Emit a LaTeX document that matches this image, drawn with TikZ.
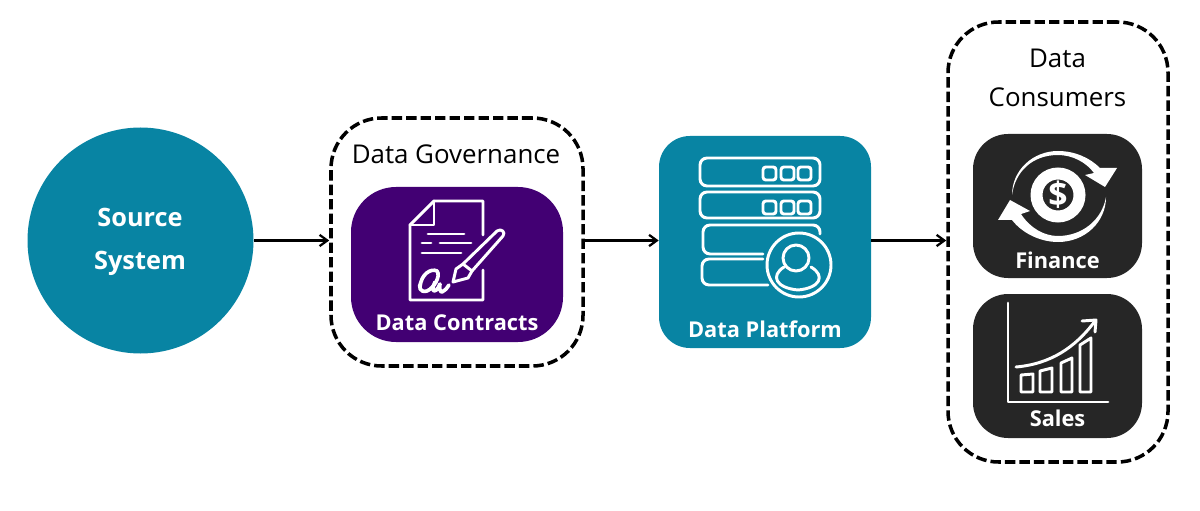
\documentclass[tikz,border=0pt]{standalone}
\usepackage{fontspec}
\setmainfont{Open Sans}
\usetikzlibrary{arrows.meta, shapes.geometric}
\definecolor{petrol}{RGB}{8, 132, 163}
\definecolor{morado}{RGB}{66, 0, 115}
\definecolor{carbon}{RGB}{38, 38, 38}
\tikzset{
    tile/.style={rectangle, draw=none, text=white, inner sep=0pt, rounded corners=#1},
    group/.style={rectangle, draw=black, line width=2.5pt, dash pattern=on 7.4pt off 2.9pt, inner sep=0pt, rounded corners=36pt},
    conn/.style={-{Straight Barb[length=5.5pt,width=8pt,line width=1.6pt]}, black, line width=1.6pt},
    icon/.style={draw=white, line width=2.1pt, line cap=round, line join=round},
    boldtxt/.style={text=white, font=\fontsize{15.5}{22}\selectfont\bfseries, align=center, inner sep=0pt},
    plaintxt/.style={text=black, font=\fontsize{18.4}{27.5}\selectfont, align=center, inner sep=0pt},
}
\begin{document}
\begin{tikzpicture}[x=0.025cm, y=-0.025cm]
    \useasboundingbox (0,0) rectangle (1200,511);

    \node[circle, fill=petrol, minimum size=226*0.025cm, inner sep=0pt] (source) at (140.5,240.5) {};
    \node[group, minimum width=252*0.025cm, minimum height=248*0.025cm] (gov) at (457,242) {};
    \node[tile=32pt, fill=morado, minimum width=212*0.025cm, minimum height=155*0.025cm] (contracts) at (457,264.5) {};
    \node[tile=22pt, fill=petrol, minimum width=212*0.025cm, minimum height=212*0.025cm] (platform) at (765,242) {};
    \node[group, minimum width=220*0.025cm, minimum height=440*0.025cm] (consumers) at (1058,242) {};
    \node[tile=25pt, fill=carbon, minimum width=169*0.025cm, minimum height=144*0.025cm] (finance) at (1057.5,206) {};
    \node[tile=25pt, fill=carbon, minimum width=169*0.025cm, minimum height=144*0.025cm] (sales) at (1057.5,366) {};

    \node[boldtxt, font=\fontsize{18}{30.5}\selectfont\bfseries] (sourcetxt) at (140,241.5) {Source\\System};
    \node[plaintxt] (govtxt) at (456,154) {Data Governance};
    \node[boldtxt] (contractstxt) at (457,323) {Data Contracts};
    \node[boldtxt] (platformtxt) at (765,329) {Data Platform};
    \node[plaintxt] (consumerstxt) at (1057.5,78) {Data\\Consumers};
    \node[boldtxt] (financetxt) at (1057.5,260) {Finance};
    \node[boldtxt] (salestxt) at (1057.5,418) {Sales};

    \draw[conn] (source.east) -- (source.east -| gov.west);
    \draw[conn] (source.east -| gov.east) -- (source.east -| platform.west);
    \draw[conn] (source.east -| platform.east) -- (source.east -| consumers.west);

    % contract icon
    \draw[icon] (483,235) -- (483,201) -- (434,201) -- (410,225) -- (410,300) -- (483,300) -- (483,270);
    \draw[icon] (434,201) -- (434,225) -- (410,225);
    \draw[icon] (428,234) -- (464,234);
    \draw[icon] (422,243) -- (431,243) (440,243) -- (471,243);
    \draw[icon] (422,253) -- (461,253);
    \draw[icon] (453,282) -- (456,269) -- (463,264) -- (497,231) .. controls (501,228) and (506,232) .. (503,236) -- (472,271) -- (468,278) -- cycle;
    \draw[icon] (463,264) -- (472,271);
    \draw[icon, line width=2.6pt] (420,287) .. controls (421,274) and (431,268) .. (437,271) .. controls (441,276) and (434,288) .. (427,291) .. controls (420,293) and (418,287) .. (421,282)
        (435,282) .. controls (433,286) and (432,290) .. (434,291) .. controls (437,291) and (439,286) .. (440,284) .. controls (439,288) and (440,292) .. (442,292) .. controls (445,291) and (447,288) .. (449,285);

    % server icon
    \draw[icon, rounded corners=5pt] (700,158) rectangle (820,186);
    \draw[icon, rounded corners=5pt] (700,192) rectangle (820,218);
    \draw[icon, rounded corners=5pt] (820,234) -- (820,225) -- (703,225) -- (703,254) -- (763,254);
    \draw[icon, rounded corners=5pt] (763,259) -- (702,259) -- (702,285) -- (768,285);
    \foreach \xa in {763,781,798} {
        \draw[icon, rounded corners=2pt] (\xa,167) rectangle ++(13,13);
        \draw[icon, rounded corners=2pt] (\xa,201) rectangle ++(13,13);
    }
    \draw[icon] (799,265) circle[radius=32];
    \draw[icon] (796,258) circle[radius=13];
    \draw[icon] (784,267) .. controls (770,276) and (776,288) .. (798,290) .. controls (820,288) and (826,276) .. (811,267);

    % finance icon
    \draw[white, line width=8.5pt] (1058,195) circle[radius=21.5];
    \node[text=white, font=\fontsize{24}{24}\selectfont\bfseries, inner sep=0pt] (dollar) at (1058,195) {\$};
    \fill[white] (1012,195) .. controls (1012,170) and (1033,151) .. (1058,151) .. controls (1075,151) and (1090,158) .. (1100,168)
        -- (1117,168) -- (1105,187) -- (1085,175) -- (1094,173) .. controls (1086,162) and (1072,155) .. (1058,155) .. controls (1032,155) and (1015,172) .. cycle;
    \fill[white] (1106,197) .. controls (1106,222) and (1085,242) .. (1058,242) .. controls (1040,242) and (1022,233) .. (1012,220)
        -- (998,220) -- (1010,200) -- (1030,211) -- (1021,214) .. controls (1030,228) and (1044,236) .. (1058,236) .. controls (1082,236) and (1102,220) .. cycle;

    % sales icon
    \draw[icon] (1008,303) -- (1008,402) -- (1108,402);
    \draw[icon] (1021,392) -- (1021,375) -- (1033,374) -- (1033,392) -- cycle;
    \draw[icon] (1040,392) -- (1040,371) -- (1052,368) -- (1052,392) -- cycle;
    \draw[icon] (1061,392) -- (1061,363) -- (1072,358) -- (1072,392) -- cycle;
    \draw[icon] (1080,392) -- (1080,345) -- (1091,338) -- (1091,392) -- cycle;
    \draw[icon] (1016,367) .. controls (1050,364) and (1075,348) .. (1095,321);
    \draw[icon] (1082,321) -- (1096,320) -- (1095,332);
\end{tikzpicture}
\end{document}
